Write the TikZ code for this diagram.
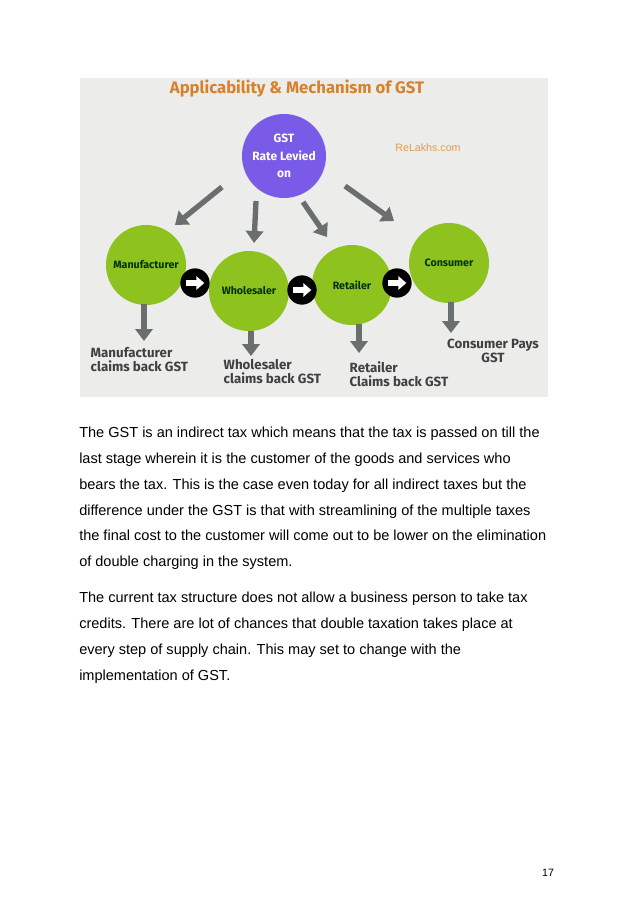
\documentclass[tikz,border=0pt]{standalone}
\usepackage{fontspec}
\setmainfont{Liberation Sans}
\newfontfamily\dia{Fira Sans}
\usetikzlibrary{arrows.meta}
\definecolor{bgg}{HTML}{ECECEA}
\definecolor{grn}{HTML}{8EC21E}
\definecolor{pur}{HTML}{7A5BE8}
\definecolor{arr}{HTML}{6B6E6E}
\definecolor{org}{HTML}{D8802A}
\tikzset{
 stage/.style={circle,fill=grn,minimum size=60pt,inner sep=0pt,font=\dia\bfseries\fontsize{8}{9}\selectfont,text=black!80!green},
 flow/.style={circle,fill=black,minimum size=22pt,inner sep=0pt},
 gar/.style={arr,line width=4pt,-{Triangle[length=9pt,width=13pt]}},
 lab/.style={font=\dia\bfseries\fontsize{10}{10.5}\selectfont,text=black!75,align=left,anchor=west},
 para/.style={anchor=base west,inner sep=0pt,font=\fontsize{10.9}{12}\selectfont}
}
\begin{document}
\begin{tikzpicture}[x=0.75pt,y=-0.75pt]
\useasboundingbox (0,0) rectangle (638,903);
\fill[white] (0,0) rectangle (638,903);
\fill[bgg] (80,78) rectangle (548,397);
\node[font=\dia\bfseries\fontsize{12.5}{13}\selectfont,text=org] (title) at (297,89) {Applicability \& Mechanism of GST};
\node[font=\rmfamily\fontsize{8}{9}\selectfont,text=org!80] (site) at (428,148) {ReLakhs.com};
\node[circle,fill=pur,minimum size=63pt,inner sep=0pt,text=white,align=center,font=\dia\bfseries\fontsize{9}{13}\selectfont] (gst) at (284,156) {GST\\Rate Levied\\on};
\node[stage] (m) at (146,265) {Manufacturer};
\node[stage] (w) at (249,291) {Wholesaler};
\node[stage] (r) at (352,285) {Retailer};
\node[stage] (c) at (449,263) {Consumer};
\foreach \n/\x/\y in {f1/195/283,f2/302/290,f3/397/283}{
 \node[flow] (\n) at (\x,\y) {};
 \draw[white,line width=4pt,-{Triangle[length=6pt,width=10pt]}] ([xshift=-7pt]\n.center) -- ([xshift=7pt]\n.center);
}
\coordinate (a1s) at (222,187); \coordinate (a1e) at (175,225);
\coordinate (a2s) at (256,201); \coordinate (a2e) at (254,243);
\coordinate (a3s) at (303,202); \coordinate (a3e) at (327,237);
\coordinate (a4s) at (345,186); \coordinate (a4e) at (394,221);
\foreach \i in {1,...,4}{\draw[gar] (a\i s) -- (a\i e);}
\coordinate (dm) at (144,341); \coordinate (dw) at (251,356);
\coordinate (dr) at (359,353); \coordinate (dc) at (451,333);
\draw[gar] (144,304) -- (dm);
\draw[gar] (251,331) -- (dw);
\draw[gar] (359,324) -- (dr);
\draw[gar] (451,302) -- (dc);
\node[lab] (lm) at (86,360) {Manufacturer\\claims back GST};
\node[lab] (lw) at (219,372) {Wholesaler\\claims back GST};
\node[lab] (lr) at (345,374) {Retailer\\Claims back GST};
\node[lab,align=center,anchor=center] (lc) at (493,351) {Consumer Pays\\GST};
\node[para] (p1) at (79,437) {The GST is an indirect tax which means that the tax is passed on till the};
\node[para] (p2) at (79,463) {last stage wherein it is the customer of the goods and services who};
\node[para] (p3) at (79,489) {bears the tax. This is the case even today for all indirect taxes but the};
\node[para] (p4) at (79,515) {difference under the GST is that with streamlining of the multiple taxes};
\node[para] (p5) at (79,540) {the final cost to the customer will come out to be lower on the elimination};
\node[para] (p6) at (79,566) {of double charging in the system.};
\node[para] (q1) at (79,602) {The current tax structure does not allow a business person to take tax};
\node[para] (q2) at (79,628) {credits. There are lot of chances that double taxation takes place at};
\node[para] (q3) at (79,654) {every step of supply chain. This may set to change with the};
\node[para] (q4) at (79,680) {implementation of GST.};
\node[anchor=center,font=\fontsize{8}{9}\selectfont] (pg) at (548,873) {17};
\end{tikzpicture}
\end{document}
